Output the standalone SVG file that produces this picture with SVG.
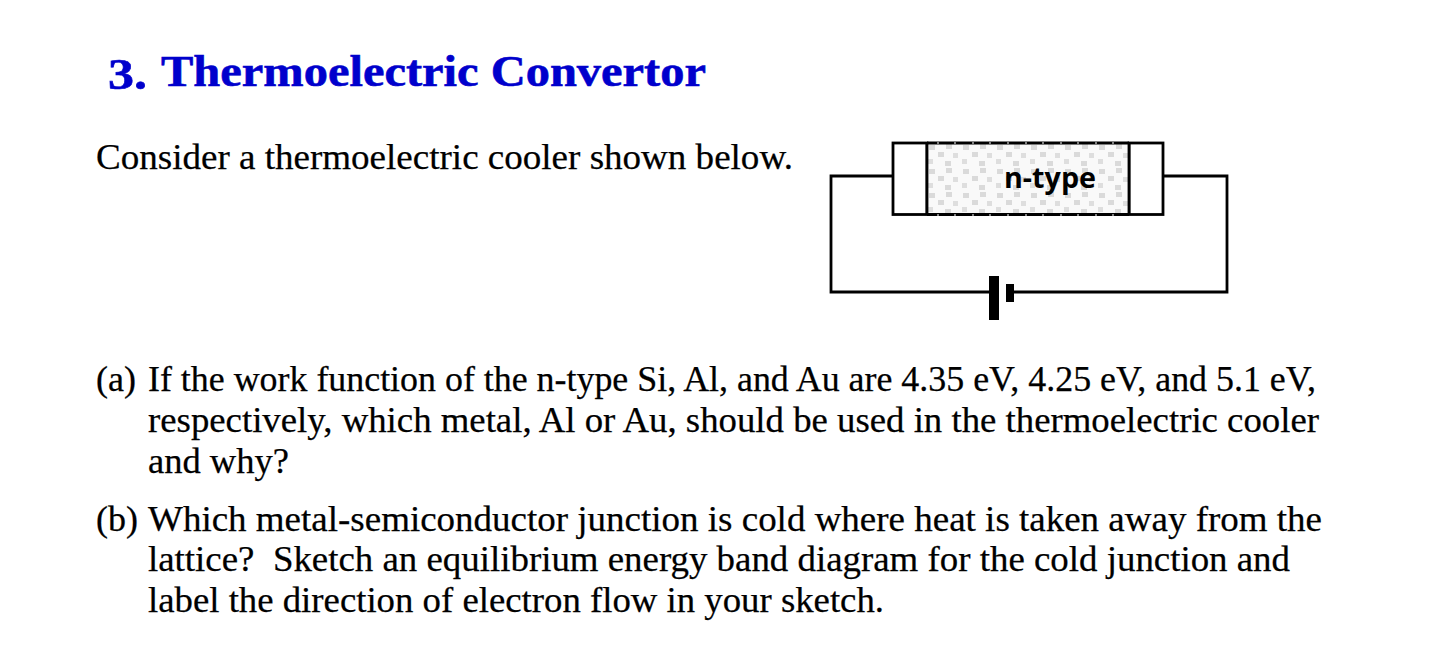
<svg xmlns="http://www.w3.org/2000/svg" width="1446" height="654" viewBox="0 0 1446 654">
<style>
.t{font-family:"Liberation Serif",serif;font-size:36px;fill:#000;stroke:#000;stroke-width:.25;white-space:pre}
.h{font-family:"Liberation Serif",serif;font-size:45px;font-weight:bold;fill:#0000cc;stroke:#0000cc;stroke-width:.6}
.l{fill:none;stroke:#000;stroke-width:2.800}
</style>
<defs>
<pattern id="dots" width="34" height="24" patternUnits="userSpaceOnUse" x="926" y="143">
<rect width="34" height="24" fill="#f9f9f9"/>
<rect x="3" y="2" width="6" height="5" fill="#dadada"/>
<rect x="20" y="1" width="6" height="5" fill="#dadada"/>
<rect x="12" y="9" width="6" height="5" fill="#dadada"/>
<rect x="27" y="10" width="5" height="5" fill="#dedede"/>
<rect x="2" y="16" width="5" height="5" fill="#dedede"/>
<rect x="19" y="18" width="6" height="5" fill="#dadada"/>
</pattern>
</defs>
<rect width="1446" height="654" fill="#fff"/>
<g id="title">
<text class="h" x="108" y="89" textLength="39" lengthAdjust="spacingAndGlyphs">3.</text>
<text class="h" x="161" y="86" textLength="545" lengthAdjust="spacingAndGlyphs">Thermoelectric Convertor</text>
</g>
<g id="intro"><text class="t" x="96" y="169" textLength="697" lengthAdjust="spacingAndGlyphs">Consider a thermoelectric cooler shown below.</text></g>
<g id="connectors">
<path class="l" d="M893 176H831V292H989M1014 292H1227V176H1163"/>
</g>
<g id="left-contact"><rect class="l" x="893" y="143" width="34" height="71.500" style="fill:#fff"/></g>
<g id="right-contact"><rect class="l" x="1129" y="143" width="34" height="71.500" style="fill:#fff"/></g>
<g id="n-type">
<rect x="927" y="143" width="202" height="71.500" fill="url(#dots)"/>
<path class="l" d="M927 143H1129M927 214.500H1129M927 143V214.500M1129 143V214.500"/>
<path d="M938 142v2M955 142v2M973 142v2M990 142v2M1008 142v2M1026 142v2M1043 142v2M1061 142v2M1078 142v2M1096 142v2M1113 142v2M938 214v2M955 214v2M973 214v2M990 214v2M1008 214v2M1026 214v2M1043 214v2M1061 214v2M1078 214v2M1096 214v2M1113 214v2" stroke="#fff" stroke-width="1" fill="none"/>
<text x="1004" y="188" font-family="'Open Sans','Noto Sans',sans-serif" font-size="29" font-weight="700" fill="#000" textLength="92" lengthAdjust="spacingAndGlyphs">n-type</text>
</g>
<g id="battery">
<rect x="989" y="276" width="10" height="44" fill="#000"/>
<rect x="1006" y="284" width="8" height="18" fill="#000"/>
</g>
<g id="question-a">
<text class="t" x="96" y="391" textLength="40" lengthAdjust="spacingAndGlyphs">(a)</text>
<text class="t" x="148" y="391" textLength="1168" lengthAdjust="spacingAndGlyphs">If the work function of the n-type Si, Al, and Au are 4.35 eV, 4.25 eV, and 5.1 eV,</text>
<text class="t" x="148" y="432" textLength="1171" lengthAdjust="spacingAndGlyphs">respectively, which metal, Al or Au, should be used in the thermoelectric cooler</text>
<text class="t" x="148" y="473" textLength="141" lengthAdjust="spacingAndGlyphs">and why?</text>
</g>
<g id="question-b">
<text class="t" x="96" y="531" textLength="42" lengthAdjust="spacingAndGlyphs">(b)</text>
<text class="t" x="148" y="531" textLength="1174" lengthAdjust="spacingAndGlyphs">Which metal-semiconductor junction is cold where heat is taken away from the</text>
<text class="t" x="148" y="571" textLength="1142" lengthAdjust="spacingAndGlyphs">lattice?  Sketch an equilibrium energy band diagram for the cold junction and</text>
<text class="t" x="148" y="612" textLength="736" lengthAdjust="spacingAndGlyphs">label the direction of electron flow in your sketch.</text>
</g>
</svg>
